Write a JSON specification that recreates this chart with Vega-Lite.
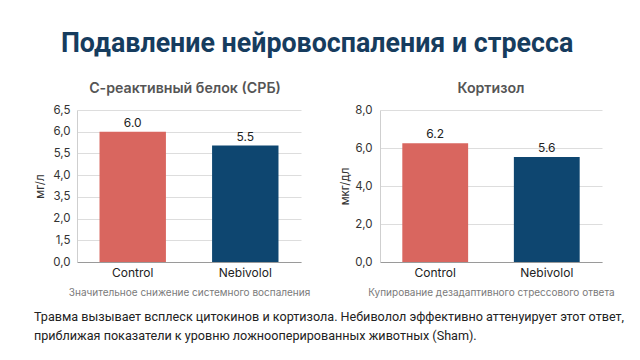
{
  "$schema": "https://vega.github.io/schema/vega-lite/v6.json",
  "background": "#ffffff",
  "padding": {"left": 34, "top": 31, "right": 5, "bottom": 5},
  "config": {
    "view": {"stroke": null},
    "font": "Inter",
    "axis": {"labelFont": "Inter", "titleFont": "Inter", "ticks": false, "labelColor": "#333333", "titleColor": "#333333", "titleFontWeight": "normal"},
    "axisY": {"gridColor": "#dddddd", "domainColor": "#cfcfcf", "labelFontSize": 11.5, "labelPadding": 7, "titleFontSize": 11.5, "titleBaseline": "middle", "titleX": -37, "labelOverlap": false},
    "axisX": {"grid": false, "domainColor": "#9a9a9a", "labelFontSize": 12, "labelColor": "#222222", "labelPadding": 5, "labelAngle": 0, "titleFontSize": 10, "titleColor": "#7a7a7a", "titlePadding": 9.5},
    "title": {"font": "Inter", "fontSize": 14.2, "fontWeight": 600, "color": "#555555", "offset": 8}
  },
  "title": {
    "text": ["Травма вызывает всплеск цитокинов и кортизола. Небиволол эффективно аттенуирует этот ответ,", "приближая показатели к уровню ложнооперированных животных (Sham)."],
    "orient": "bottom", "anchor": "start", "font": "Roboto", "fontSize": 12.6, "fontWeight": "normal", "color": "#222222", "lineHeight": 19, "offset": 13.5
  },
  "vconcat": [
    {
      "title": {"text": "Подавление нейровоспаления и стресса", "font": "Roboto", "fontSize": 26.8, "fontWeight": "bold", "color": "#163c5e", "anchor": "middle", "offset": 24, "dx": -7},
      "spacing": 29,
      "hconcat": [
        {
          "width": 224, "height": 152,
          "title": {"text": "С-реактивный белок (СРБ)", "dx": -4},
          "data": {"values": [
            {"group": "Control", "value": 6.0, "label": "6.0"},
            {"group": "Nebivolol", "value": 5.68, "label": "5.5"}
          ]},
          "encoding": {
            "x": {"field": "group", "type": "nominal", "sort": null, "scale": {"paddingInner": 0.41, "paddingOuter": 0.2}, "axis": {"title": "Значительное снижение системного воспаления"}},
            "y": {"field": "value", "type": "quantitative", "scale": {"type": "linear", "domain": [0, 1.5, 2, 3.5, 4, 5.5, 6, 6.5], "range": [152, 130.29, 108.57, 86.86, 65.14, 43.43, 21.71, 0], "zero": false, "nice": false}, "axis": {"title": "мг/л", "values": [0, 1.5, 2, 3.5, 4, 5.5, 6, 6.5], "labelExpr": "replace(format(datum.value, '.1f'), '.', ',')"}}
          },
          "layer": [
            {
              "mark": {"type": "bar"},
              "encoding": {
                "color": {"field": "group", "type": "nominal", "scale": {"domain": ["Control", "Nebivolol"], "range": ["#d9665f", "#0e4670"]}, "legend": null}
              }
            },
            {
              "mark": {"type": "text", "dy": -9, "fontSize": 12, "color": "#222222"},
              "encoding": {
                "text": {"field": "label"}
              }
            }
          ]
        },
        {
          "width": 222, "height": 152,
          "title": "Кортизол",
          "data": {"values": [
            {"group": "Control", "value": 6.25, "label": "6.2"},
            {"group": "Nebivolol", "value": 5.52, "label": "5.6"}
          ]},
          "encoding": {
            "x": {"field": "group", "type": "nominal", "sort": null, "scale": {"paddingInner": 0.41, "paddingOuter": 0.2}, "axis": {"title": "Купирование дезадаптивного стрессового ответа"}},
            "y": {"field": "value", "type": "quantitative", "scale": {"domain": [0, 8], "nice": false}, "axis": {"title": "мкг/дл", "titleX": -35, "labelPadding": 8, "values": [0, 2, 4, 6, 8], "labelExpr": "replace(format(datum.value, '.1f'), '.', ',')"}}
          },
          "layer": [
            {
              "mark": {"type": "bar"},
              "encoding": {
                "color": {"field": "group", "type": "nominal", "scale": {"domain": ["Control", "Nebivolol"], "range": ["#d9665f", "#0e4670"]}, "legend": null}
              }
            },
            {
              "mark": {"type": "text", "dy": -9, "fontSize": 12, "color": "#222222"},
              "encoding": {
                "text": {"field": "label"}
              }
            }
          ]
        }
      ]
    }
  ]
}
